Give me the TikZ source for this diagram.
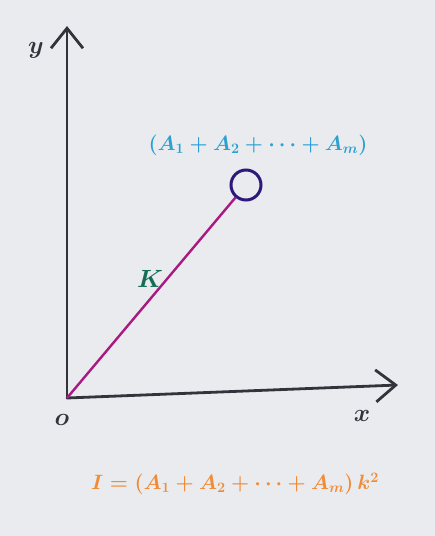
\documentclass[tikz,border=0pt]{standalone}
\usetikzlibrary{arrows.meta}
\definecolor{paper}{RGB}{234,235,238}
\definecolor{axisc}{RGB}{50,52,60}
\definecolor{cyanc}{RGB}{45,160,210}
\definecolor{magc}{RGB}{170,25,130}
\definecolor{greenc}{RGB}{20,110,85}
\definecolor{orangec}{RGB}{240,140,55}
\definecolor{circc}{RGB}{45,25,125}
\begin{document}
\begin{tikzpicture}[x=1pt,y=-1pt,
  axis/.style={draw=axisc,line width=2.8pt,line cap=round,-{Straight Barb[length=20pt,width=32pt,line width=2.8pt]}},
  lbl/.style={inner sep=0pt,font=\fontsize{25}{30}\selectfont\boldmath},
  eq/.style={inner sep=0pt,font=\fontsize{21}{25}\selectfont\boldmath},
  ]
\fill[paper] (0,0) rectangle (435,536);
\useasboundingbox (0,0) rectangle (435,536);
\coordinate (O) at (67,398);
\coordinate (ytip) at (67,26);
\coordinate (xtip) at (398,385);
\draw[axis] (O) -- (ytip);
\draw[axis] (O) -- (xtip);
\node[lbl,text=axisc] (ylab) at (36,50) {$y$};
\node[lbl,text=axisc] (xlab) at (362,416) {$x$};
\node[lbl,text=axisc] (olab) at (62,420) {$o$};
\node[draw=circc,line width=3pt,circle,minimum size=30pt,inner sep=0pt] (m) at (246,185) {};
\draw[magc,line width=2.4pt] (O) -- (m);
\node[lbl,text=greenc] (k) at (150,279) {$K$};
\node[eq,text=cyanc] (top) at (258,145) {$(A_1+A_2+\cdots+A_m)$};
\node[eq,text=orangec] (form) at (235,484) {$I=(A_1+A_2+\cdots+A_m)\,k^2$};
\end{tikzpicture}
\end{document}
